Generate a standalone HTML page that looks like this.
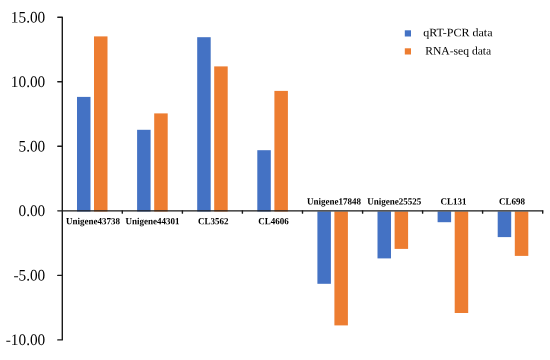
<!DOCTYPE html>
<html><head><meta charset="utf-8"><title>chart</title>
<style>
html,body{margin:0;padding:0;background:#fff;}
svg{display:block;}
text{font-family:"Liberation Serif","Times New Roman",serif;fill:#000;text-rendering:geometricPrecision;}
.yl{font-size:16px;text-anchor:end;}
.xl{font-size:9.4px;font-weight:bold;text-anchor:middle;}
.lg{font-size:11.4px;}
</style></head><body>
<svg width="550" height="360" viewBox="0 0 550 360">
<rect width="550" height="360" fill="#fff"/>

<rect x="77.0" y="96.9" width="13.5" height="114.6" fill="#4472C4"/>
<rect x="94.0" y="36.4" width="13.5" height="175.1" fill="#ED7D31"/>
<rect x="137.1" y="129.8" width="13.5" height="81.7" fill="#4472C4"/>
<rect x="154.2" y="113.4" width="13.5" height="98.1" fill="#ED7D31"/>
<rect x="197.2" y="37.2" width="13.5" height="174.3" fill="#4472C4"/>
<rect x="214.2" y="66.4" width="13.5" height="145.1" fill="#ED7D31"/>
<rect x="257.3" y="150.2" width="13.5" height="61.3" fill="#4472C4"/>
<rect x="274.4" y="90.9" width="13.5" height="120.6" fill="#ED7D31"/>
<rect x="317.4" y="211.5" width="13.5" height="72.3" fill="#4472C4"/>
<rect x="334.4" y="211.5" width="13.5" height="113.9" fill="#ED7D31"/>
<rect x="377.5" y="211.5" width="13.5" height="46.9" fill="#4472C4"/>
<rect x="394.6" y="211.5" width="13.5" height="37.4" fill="#ED7D31"/>
<rect x="437.6" y="211.5" width="13.5" height="10.7" fill="#4472C4"/>
<rect x="454.7" y="211.5" width="13.5" height="101.5" fill="#ED7D31"/>
<rect x="497.7" y="211.5" width="13.5" height="25.6" fill="#4472C4"/>
<rect x="514.8" y="211.5" width="13.5" height="44.4" fill="#ED7D31"/>
<g stroke="#1a1a1a" stroke-width="1.4" fill="none" stroke-linecap="round" stroke-linejoin="round">
<path d="M57.8 17.2H62.3V339.9H57.8"/>
<path d="M57.8 210.85H542.7"/>
<path d="M57.8 81.8H62.3"/>
<path d="M57.8 146.3H62.3"/>
<path d="M57.8 275.4H62.3"/>
<path d="M122.3 210.85v2.3"/>
<path d="M182.4 210.85v2.3"/>
<path d="M242.4 210.85v2.3"/>
<path d="M302.5 210.85v2.3"/>
<path d="M362.6 210.85v2.3"/>
<path d="M422.6 210.85v2.3"/>
<path d="M482.6 210.85v2.3"/>
<path d="M542.7 210.85v2.3"/>
</g>
<text class="yl" transform="translate(45.25 22.4) rotate(0.03) scale(0.955 1)">15.00</text>
<text class="yl" transform="translate(45.25 87.0) rotate(0.03) scale(0.955 1)">10.00</text>
<text class="yl" transform="translate(45.25 151.5) rotate(0.03) scale(0.955 1)">5.00</text>
<text class="yl" transform="translate(45.25 216.0) rotate(0.03) scale(0.955 1)">0.00</text>
<text class="yl" transform="translate(45.25 280.6) rotate(0.03) scale(0.955 1)">-5.00</text>
<text class="yl" transform="translate(45.25 345.1) rotate(0.03) scale(0.955 1)">-10.00</text>
<text class="xl" transform="translate(93.1 224.2) rotate(0.03) scale(0.96 1)">Unigene43738</text>
<text class="xl" transform="translate(152.4 224.2) rotate(0.03) scale(0.96 1)">Unigene44301</text>
<text class="xl" transform="translate(213.3 224.2) rotate(0.03) scale(0.96 1)">CL3562</text>
<text class="xl" transform="translate(273.4 224.2) rotate(0.03) scale(0.96 1)">CL4606</text>
<text class="xl" transform="translate(334.0 204.4) rotate(0.03) scale(0.96 1)">Unigene17848</text>
<text class="xl" transform="translate(394.3 204.4) rotate(0.03) scale(0.96 1)">Unigene25525</text>
<text class="xl" transform="translate(453.5 204.4) rotate(0.03) scale(0.96 1)">CL131</text>
<text class="xl" transform="translate(512.0 204.4) rotate(0.03) scale(0.96 1)">CL698</text>
<rect x="404.8" y="30.3" width="6.2" height="6.2" fill="#4472C4"/>
<rect x="404.8" y="48.3" width="6.2" height="6.2" fill="#ED7D31"/>
<text class="lg" transform="translate(423.2 36.3) rotate(0.03) scale(1.055 1)">qRT-PCR data</text>
<text class="lg" transform="translate(425.2 54.5) rotate(0.03) scale(1.018 1)">RNA-seq data</text>
</svg></body></html>
